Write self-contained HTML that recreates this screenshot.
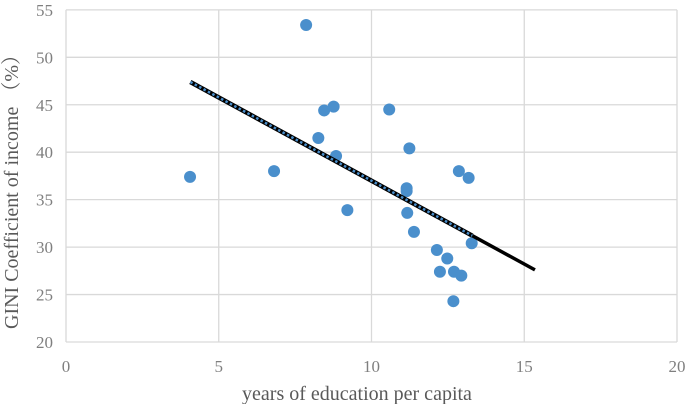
<!DOCTYPE html>
<html><head><meta charset="utf-8"><style>
html,body{margin:0;padding:0;background:#fff;}
svg{display:block;font-family:"Liberation Serif","Noto Serif CJK SC",serif;}
</style></head><body>
<svg id="chart" width="685" height="404"></svg>
<script>
const xs = [7.86,4.06,6.81,8.45,8.76,10.58,8.26,11.24,8.84,12.86,13.18,11.15,11.15,9.21,11.17,11.39,13.28,12.14,12.48,12.24,12.70,12.94,12.68];
const ys = [53.4,37.4,38.0,44.4,44.8,44.5,41.5,40.4,39.6,38.0,37.3,36.2,35.9,33.9,33.6,31.6,30.4,29.7,28.8,27.4,27.4,27.0,24.3];
const xTicks = [0,5,10,15,20];
const yTicks = [20,25,30,35,40,45,50,55];
const trendX = [4.07,13.3,15.35];
const trendY = [47.4,31.2,27.6];
const NS="http://www.w3.org/2000/svg";
const svg=document.getElementById('chart');
const X=v=>66+v*30.55, Y=v=>342-(v-20)*9.49;
function mk(t,a,p){const e=document.createElementNS(NS,t);for(const k in a)e.setAttribute(k,a[k]);(p||svg).appendChild(e);return e;}
xTicks.forEach(t=>{
  const l=mk('line',{x1:X(t),x2:X(t),y1:Y(55),y2:Y(20),stroke:'#d9d9d9','stroke-width':1.3});
  
  
  const tx=mk('text',{x:X(t),y:372,'text-anchor':'middle','font-size':17,fill:'#7f7f7f'});tx.textContent=t;
  
  
});
yTicks.forEach(t=>{
  const l=mk('line',{x1:X(0),x2:X(20),y1:Y(t),y2:Y(t),stroke:'#d9d9d9','stroke-width':1.3});
  
  
  const tx=mk('text',{x:53,y:Y(t)+6,'text-anchor':'end','font-size':17,fill:'#7f7f7f'});tx.textContent=t;
  
  
});
xs.forEach((x,i)=>{
  const c=mk('circle',{cx:X(x),cy:Y(ys[i]),r:6,fill:'#4a8fcc'});
  
  
});
const t1=mk('line',{x1:X(trendX[0]),y1:Y(trendY[0]),x2:X(trendX[1]),y2:Y(trendY[1]),stroke:'#000','stroke-width':4.5});


const t2=mk('line',{x1:X(trendX[0]),y1:Y(trendY[0]),x2:X(trendX[1]),y2:Y(trendY[1]),stroke:'#4a8fcc','stroke-width':2.5,'stroke-dasharray':'2.5 2.5'});


const t3=mk('line',{x1:X(trendX[1]),y1:Y(trendY[1]),x2:X(trendX[2]),y2:Y(trendY[2]),stroke:'#000','stroke-width':3.5});


const xt=mk('text',{x:357,y:400,'text-anchor':'middle','font-size':20,fill:'#595959'});xt.textContent='years of education per capita';


const yt=mk('text',{x:0,y:0,'text-anchor':'middle','font-size':20,fill:'#595959',transform:'translate(18,187) rotate(-90)'});yt.textContent='GINI Coefficient of income （%）';


</script>
</body></html>
